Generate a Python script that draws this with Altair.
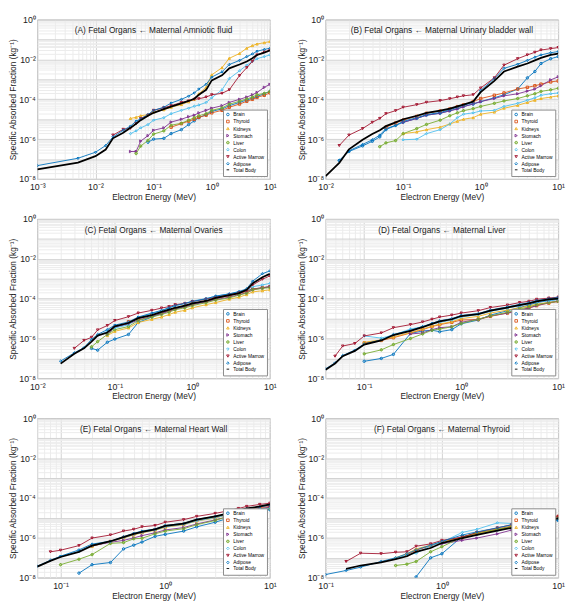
import altair as alt
import pandas as pd

# ---------------- data ----------------
ENERGY = [0.001, 0.005, 0.01, 0.015, 0.02, 0.03, 0.04, 0.05, 0.06, 0.08, 0.1, 0.15, 0.2,
          0.3, 0.4, 0.5, 0.6, 0.8, 1, 1.5, 2, 3, 4, 5, 6, 8, 10]
ORGANS = ["Brain", "Thyroid", "Kidneys", "Stomach", "Liver", "Colon",
          "Active Marrow", "Adipose", "Total Body"]
COLORS = ["#0072BD", "#D95319", "#EDB120", "#7E2F8E", "#77AC30", "#4DBEEE",
          "#A2142F", "#0072BD", "#000000"]
SHAPES = ["circle", "square", "triangle-up", "triangle-right", "cross", "diamond",
          "triangle-down", "diamond", "stroke"]

# each list is aligned to the LAST len(list) energies of ENERGY
# ---- (A) Amniotic fluid
A_brain = [7e-7, 1e-6, 1.1e-6, 1.9e-6, 3e-6, 5.4e-6, 8.3e-6, 1.2e-5, 1.7e-5, 2.5e-5, 3.3e-5, 4.8e-5, 7e-5, 9.3e-5, 1.15e-4, 1.4e-4, 1.9e-4, 2.5e-4]
A_thyroid = [4e-6, 6e-6, 8e-6, 1e-5, 1.25e-5, 1.6e-5, 2.1e-5, 2.8e-5, 4e-5, 5.8e-5, 8e-5, 1e-4, 1.25e-4, 1.6e-4, 2.1e-4]
A_kidneys = [1.1e-5, 1.25e-5, 1.5e-5, 1.7e-5, 2.3e-5, 3e-5, 4e-5, 5.5e-5, 7.5e-5, 1e-4, 1.9e-4, 4e-4, 1.7e-3, 3.9e-3, 1.15e-2, 2e-2, 3.7e-2, 5e-2, 6e-2, 7e-2, 8e-2]
A_stomach = [2.4e-7, 2.4e-7, 8e-7, 1.5e-6, 2.8e-6, 3.7e-6, 7.2e-6, 1e-5, 1.35e-5, 1.6e-5, 2.1e-5, 2.8e-5, 3.6e-5, 4.8e-5, 7e-5, 1e-4, 1.3e-4, 1.7e-4, 2.2e-4, 4e-4, 5.7e-4]
A_liver = [1.9e-7, 4.5e-7, 8.7e-7, 1.8e-6, 2.6e-6, 5e-6, 6.3e-6, 9e-6, 1.2e-5, 1.5e-5, 1.9e-5, 2.8e-5, 3.7e-5, 5.7e-5, 8e-5, 1.05e-4, 1.3e-4, 1.7e-4, 2e-4, 2.5e-4]
A_colon = [1.9e-6, 2.6e-6, 3.7e-6, 5.4e-6, 9e-6, 1.2e-5, 1.9e-5, 2.8e-5, 3.6e-5, 4.5e-5, 5.2e-5, 7e-5, 1.2e-4, 3e-4, 1.1e-3, 2.7e-3, 5.2e-3, 8e-3, 1.1e-2, 1.4e-2, 1.7e-2]
A_marrow = [1.6e-6, 3.1e-6, 3.5e-6, 6e-6, 1.1e-5, 1.6e-5, 2.8e-5, 3.8e-5, 4.8e-5, 7e-5, 8.3e-5, 1e-4, 1.07e-4, 1.3e-4, 1.7e-4, 2e-4, 3e-4, 1.55e-3, 3.9e-3, 8e-3, 1.7e-2, 2.4e-2, 2.9e-2]
A_adipose = [4.7e-8, 1.1e-7, 2.2e-7, 4.8e-7, 1.3e-6, 2.8e-6, 4.5e-6, 8e-6, 1.05e-5, 1.7e-5, 2.8e-5, 4e-5, 6.5e-5, 1e-4, 1.45e-4, 2.1e-4, 3.3e-4, 5.7e-4, 1.3e-3, 2.4e-3, 5.6e-3, 9e-3, 1.4e-2, 1.9e-2, 2.6e-2, 3.2e-2, 3.7e-2]
A_total = [3e-8, 6.7e-8, 1.4e-7, 3e-7, 1.1e-6, 2.1e-6, 3.7e-6, 6e-6, 9e-6, 1.5e-5, 2.1e-5, 3.2e-5, 4.3e-5, 6.3e-5, 8.3e-5, 1.07e-4, 1.7e-4, 3e-4, 9e-4, 1.6e-3, 3.6e-3, 5.6e-3, 8e-3, 1.15e-2, 1.7e-2, 2.2e-2, 2.9e-2]

# ---- (B) Urinary bladder wall
B_brain = [8.5e-8, 2.4e-7, 4.6e-7, 7.8e-7, 1.3e-6, 3e-6, 4.9e-6, 7e-6, 1.1e-5, 1.6e-5, 2e-5, 2.7e-5, 3.4e-5, 4.4e-5, 5.7e-5, 7.7e-5, 1.2e-4, 1.7e-4, 3.3e-4, 1.2e-3, 2.5e-3, 6.3e-3, 1.1e-2, 1.4e-2]
B_thyroid = [4e-6, 6.5e-6, 9e-6, 1.4e-5, 2e-5, 2.6e-5, 3.3e-5, 4.3e-5, 5.3e-5, 7.7e-5, 1.1e-4, 1.6e-4, 2.1e-4, 3.3e-4, 4e-4, 4.8e-4, 5.8e-4, 7.5e-4, 8.4e-4]
B_kidneys = [1.9e-6, 2.3e-6, 3e-6, 4e-6, 5.8e-6, 7.9e-6, 1e-5, 1.2e-5, 1.8e-5, 2.3e-5, 3.6e-5, 5e-5, 7e-5, 9e-5, 1.1e-4, 1.3e-4, 1.5e-4]
B_stomach = [7e-6, 1.1e-5, 1.6e-5, 2e-5, 2.6e-5, 3.3e-5, 4.2e-5, 6e-5, 7.7e-5, 1.1e-4, 1.5e-4, 1.9e-4, 2.6e-4, 3.3e-4, 4.8e-4, 9.5e-4, 1.35e-3]
B_liver = [4.2e-7, 6.5e-7, 8.5e-7, 1.9e-6, 3.4e-6, 5.5e-6, 9e-6, 1.5e-5, 2.1e-5, 2.7e-5, 3.4e-5, 4.4e-5, 6.3e-5, 8.3e-5, 1.1e-4, 1.5e-4, 1.9e-4, 2.5e-4, 3e-4, 3.6e-4]
B_colon = [9.3e-7, 1e-6, 1.9e-6, 3e-6, 5.8e-6, 1.2e-5, 1.8e-5, 2.1e-5, 2.6e-5, 2.8e-5, 4.4e-5, 6.3e-5, 9e-5, 1.2e-4, 1.6e-4, 1.9e-4, 2.1e-4]
B_marrow = [4.8e-7, 1.6e-6, 3.4e-6, 7e-6, 1.1e-5, 1.9e-5, 2.7e-5, 4e-5, 5.4e-5, 7.1e-5, 8.6e-5, 1.07e-4, 1.3e-4, 1.5e-4, 1.7e-4, 3.7e-4, 1.2e-3, 5.2e-3, 1.1e-2, 1.7e-2, 2.3e-2, 3e-2, 3.5e-2, 4e-2]
B_adipose = [8.5e-8, 2.6e-7, 5.4e-7, 9.3e-7, 1.6e-6, 3.4e-6, 4.9e-6, 7.9e-6, 1.2e-5, 1.7e-5, 2.2e-5, 3e-5, 4e-5, 5e-5, 7e-5, 2.8e-4, 1.1e-3, 3.6e-3, 5.8e-3, 9e-3, 1.3e-2, 1.7e-2, 2.2e-2, 2.5e-2]
B_total = [1.4e-8, 6.4e-8, 3.1e-7, 9.3e-7, 1.8e-6, 2.8e-6, 4.5e-6, 7e-6, 1e-5, 1.5e-5, 2.1e-5, 2.7e-5, 3.4e-5, 4.4e-5, 5.4e-5, 7.7e-5, 2.3e-4, 8.4e-4, 2.5e-3, 4.4e-3, 6.3e-3, 9e-3, 1.2e-2, 1.7e-2, 2e-2]

# ---- (C) Ovaries
C_brain = [3.2e-7, 2.6e-7, 6.5e-7, 9.4e-7, 1.6e-6, 6.4e-6, 1.2e-5, 1.8e-5, 2.6e-5, 3.1e-5, 4e-5, 5.4e-5, 7.7e-5, 1e-4, 1.5e-4, 1.9e-4, 2.5e-4, 3.1e-4, 3.5e-4, 4e-4]
C_thyroid = [7e-6, 1e-5, 1.5e-5, 2e-5, 2.6e-5, 3.3e-5, 4.2e-5, 5.5e-5, 7.5e-5, 1e-4, 1.4e-4, 1.8e-4, 2.3e-4, 3e-4, 3.6e-4, 4e-4]
C_kidneys = [1.4e-6, 2.3e-6, 3.4e-6, 6.4e-6, 9.2e-6, 1.2e-5, 1.6e-5, 2.1e-5, 2.6e-5, 3.5e-5, 5e-5, 6.4e-5, 9.5e-5, 1.2e-4, 1.6e-4, 2.2e-4, 2.5e-4, 2.8e-4]
C_stomach = [1.6e-6, 3.7e-6, 5.4e-6, 8.5e-6, 1.3e-5, 1.8e-5, 2.3e-5, 3e-5, 3.8e-5, 5e-5, 6.8e-5, 9e-5, 1.2e-4, 1.6e-4, 2e-4, 2.8e-4, 3.5e-4, 4e-4]
C_liver = [3.8e-7, 7e-7, 1.6e-6, 2.8e-6, 4e-6, 8e-6, 1.2e-5, 1.6e-5, 2.1e-5, 2.8e-5, 3.5e-5, 4.5e-5, 6.3e-5, 8.5e-5, 1.1e-4, 1.5e-4, 1.9e-4, 2.8e-4, 3.3e-4, 3.6e-4]
C_colon = [1.4e-6, 2.3e-6, 3.4e-6, 4.9e-6, 1.1e-5, 1.8e-5, 2.4e-5, 3.5e-5, 4.5e-5, 5.8e-5, 7.7e-5, 1e-4, 1.35e-4, 1.75e-4, 2.2e-4, 2.8e-4, 4e-4, 4.9e-4, 5.9e-4]
C_marrow = [3.2e-7, 8e-7, 1.15e-6, 2.7e-6, 4.5e-6, 8e-6, 1.25e-5, 1.9e-5, 2.6e-5, 3.4e-5, 4e-5, 5e-5, 5.8e-5, 7.2e-5, 9.5e-5, 1.2e-4, 1.6e-4, 2e-4, 2.5e-4, 4.9e-4, 9.5e-4, 1.4e-3]
C_adipose = [7.4e-8, 1.9e-7, 3.5e-7, 9e-7, 1.6e-6, 2.8e-6, 4.7e-6, 6.8e-6, 1.2e-5, 1.9e-5, 2.6e-5, 3.5e-5, 4.5e-5, 5.8e-5, 7.2e-5, 1e-4, 1.35e-4, 1.75e-4, 2.3e-4, 3.1e-4, 7.6e-4, 1.8e-3, 2.5e-3]
C_total = [5.5e-8, 1.7e-7, 3.2e-7, 7e-7, 1.4e-6, 2e-6, 4.1e-6, 6e-6, 1.05e-5, 1.5e-5, 2.2e-5, 2.8e-5, 3.5e-5, 4.5e-5, 5.8e-5, 7.7e-5, 1.1e-4, 1.5e-4, 1.9e-4, 2.8e-4, 5.9e-4, 1.2e-3, 1.8e-3]

# ---- (D) Liver
D_brain = [7.2e-8, 1e-7, 1.6e-7, 1.8e-6, 2.4e-6, 2.6e-6, 2.2e-6, 2.8e-6, 5.5e-6, 8.5e-6, 1.5e-5, 2.5e-5, 3.6e-5, 4.8e-5, 6.4e-5, 8e-5, 9.3e-5]
D_thyroid = [6e-7, 8e-7, 1.1e-6, 1.9e-6, 2.8e-6, 4e-6, 5e-6, 6.5e-6, 8.5e-6, 9e-6, 1.3e-5, 1.9e-5, 2.6e-5, 3.5e-5, 4.5e-5, 6e-5, 7.4e-5]
D_kidneys = [6.5e-7, 8.5e-7, 1.2e-6, 2e-6, 3e-6, 4.2e-6, 5.3e-6, 7e-6, 1e-5, 1.3e-5, 1.9e-5, 2.7e-5, 3.5e-5, 4.4e-5, 5.3e-5, 6.5e-5, 7.4e-5]
D_stomach = [1.7e-6, 1.9e-6, 2.8e-6, 3.5e-6, 3.9e-6, 6.5e-6, 9.3e-6, 1.35e-5, 1.9e-5, 2.7e-5, 3.4e-5, 4.5e-5, 6.4e-5, 7.4e-5]
D_liver = [1.7e-7, 2.7e-7, 5e-7, 1e-6, 1.7e-6, 2.6e-6, 3e-6, 3.9e-6, 5.7e-6, 9.3e-6, 1.35e-5, 2.1e-5, 3e-5, 3.9e-5, 5e-5, 6.4e-5, 7.4e-5]
D_colon = [1.35e-6, 1.05e-6, 1.5e-6, 3e-6, 3.9e-6, 5.4e-6, 6.5e-6, 8.5e-6, 1.2e-5, 1.6e-5, 2.3e-5, 3.4e-5, 4.4e-5, 5.8e-5, 6.8e-5, 8e-5, 9.3e-5]
D_marrow = [1.3e-7, 4.2e-7, 5.6e-7, 1.35e-6, 1.9e-6, 3.5e-6, 5e-6, 6.8e-6, 9.3e-6, 1.2e-5, 1.5e-5, 1.9e-5, 2.5e-5, 3.6e-5, 4.8e-5, 6.4e-5, 7.4e-5, 9.3e-5, 1.07e-4, 1.2e-4]
D_adipose = [3e-8, 6e-8, 1.4e-7, 2.6e-7, 5.4e-7, 8.5e-7, 1.6e-6, 2.6e-6, 4e-6, 5.8e-6, 7.8e-6, 1e-5, 1.45e-5, 1.8e-5, 2.7e-5, 3.9e-5, 5.2e-5, 6.3e-5, 8e-5, 1e-4, 1.15e-4]
D_total = [2.7e-8, 5.6e-8, 1.3e-7, 2.4e-7, 5e-7, 8e-7, 1.5e-6, 2.4e-6, 3.7e-6, 5.4e-6, 7.3e-6, 9.3e-6, 1.35e-5, 1.7e-5, 2.5e-5, 3.6e-5, 4.8e-5, 5.8e-5, 7.4e-5, 9.3e-5, 1e-4]

# ---- (E) Heart wall
E_brain = [1.7e-8, 4.5e-8, 5.8e-8, 2.8e-7, 4.3e-7, 6.2e-7, 1.2e-6, 1.5e-6, 2.2e-6, 3.6e-6, 6.1e-6, 9.8e-6, 1.4e-5, 1.9e-5, 2.4e-5, 2.6e-5]
E_thyroid = [4e-7, 6.6e-7, 1.05e-6, 1.5e-6, 1.9e-6, 2.6e-6, 3.7e-6, 4.9e-6, 7.5e-6, 1.1e-5, 1.5e-5, 2.1e-5, 2.7e-5, 3.3e-5, 3.8e-5]
E_kidneys = [3.8e-7, 6.5e-7, 1e-6, 1.4e-6, 1.8e-6, 2.4e-6, 3.4e-6, 4.6e-6, 7e-6, 1e-5, 1.4e-5, 1.9e-5, 2.4e-5, 2.9e-5, 3.3e-5]
E_stomach = [4e-7, 6e-7, 7.5e-7, 1e-6, 1.3e-6, 1.8e-6, 2.5e-6, 3.3e-6, 5e-6, 8e-6, 1.2e-5, 1.6e-5, 2.2e-5, 2.9e-5, 3.5e-5]
E_liver = [4.5e-8, 8.5e-8, 1.45e-7, 5.3e-7, 5.8e-7, 9e-7, 9.6e-7, 1.6e-6, 2.2e-6, 2.9e-6, 4.6e-6, 7.5e-6, 1.2e-5, 1.6e-5, 2e-5, 2.6e-5, 3e-5]
E_colon = [1.2e-7, 2.1e-7, 4.3e-7, 6.6e-7, 1.05e-6, 1.5e-6, 1.9e-6, 2.5e-6, 3.6e-6, 4.8e-6, 7.2e-6, 1.05e-5, 1.45e-5, 1.9e-5, 2.4e-5, 2.8e-5, 3e-5]
E_marrow = [2e-7, 2.4e-7, 4.1e-7, 9.8e-7, 1.4e-6, 2.2e-6, 2.7e-6, 3.6e-6, 4.2e-6, 6.1e-6, 8.2e-6, 1.2e-5, 1.7e-5, 2.3e-5, 3e-5, 3.8e-5, 4.8e-5, 5.5e-5]
E_adipose = [3.8e-8, 7.5e-8, 1.2e-7, 2.5e-7, 4.9e-7, 6.8e-7, 1.15e-6, 1.7e-6, 2.2e-6, 2.8e-6, 4.2e-6, 5.4e-6, 8.5e-6, 1.2e-5, 1.6e-5, 2.2e-5, 2.9e-5, 3.6e-5, 4.4e-5]
E_total = [3.6e-8, 7e-8, 1.1e-7, 2e-7, 4.1e-7, 6.8e-7, 1.1e-6, 1.6e-6, 2e-6, 2.7e-6, 4e-6, 5.2e-6, 8.2e-6, 1.2e-5, 1.7e-5, 2.3e-5, 3e-5, 3.8e-5, 4.8e-5]

# ---- (F) Thyroid
F_brain = [1.1e-8, 1e-7, 1.6e-7, 1.2e-6, 1.5e-6, 2.5e-6, 3.7e-6, 4.6e-6, 6e-6, 6.8e-6, 7.5e-6]
F_thyroid = [1.4e-7, 2.4e-7, 4e-7, 6.3e-7, 1.1e-6, 1.7e-6, 2.8e-6, 3.9e-6, 5e-6, 6.5e-6, 9e-6, 1.2e-5]
F_kidneys = [1e-7, 1.6e-7, 2.8e-7, 4.3e-7, 6.3e-7, 1e-6, 1.6e-6, 2.6e-6, 3.6e-6, 4.8e-6, 6.2e-6, 8.5e-6, 1.1e-5]
F_stomach = [5e-7, 7.6e-7, 9.8e-7, 1.6e-6, 2.5e-6, 3.7e-6, 5.3e-6, 7.5e-6, 9.5e-6]
F_liver = [4.1e-8, 4.8e-8, 6.5e-8, 2e-7, 3.6e-7, 1.1e-6, 1.8e-6, 2.7e-6, 3.7e-6, 4.6e-6, 6e-6, 8e-6, 9.5e-6]
F_colon = [9e-8, 1.4e-7, 1.7e-7, 4e-7, 6e-7, 1.9e-6, 2.7e-6, 5.7e-6, 5.3e-6, 6.8e-6, 7.5e-6, 8.5e-6, 9.5e-6]
F_marrow = [6.5e-8, 1.7e-7, 1.6e-7, 1.9e-7, 2e-7, 3.8e-7, 5e-7, 7.5e-7, 1.1e-6, 1.9e-6, 3.2e-6, 4.6e-6, 6e-6, 8e-6, 1.07e-5, 1.2e-5]
F_adipose = [1.45e-8, 2.3e-8, 3.4e-8, 6.5e-8, 1e-7, 1.6e-7, 2.5e-7, 4.3e-7, 6.7e-7, 1.4e-6, 2e-6, 3.2e-6, 4.6e-6, 5.6e-6, 6.8e-6, 7.5e-6, 8e-6]
F_total = [2.8e-8, 4.1e-8, 5.9e-8, 8.6e-8, 1.2e-7, 2e-7, 3.1e-7, 5.5e-7, 9.8e-7, 1.4e-6, 2.3e-6, 3.2e-6, 4.2e-6, 5.7e-6, 7.5e-6, 9.5e-6]

PANELS = [
    ("(A) Fetal Organs \u2190 Maternal Amniotic fluid", 0.001,
     [A_brain, A_thyroid, A_kidneys, A_stomach, A_liver, A_colon, A_marrow, A_adipose, A_total]),
    ("(B) Fetal Organs \u2190 Maternal Urinary bladder wall", 0.01,
     [B_brain, B_thyroid, B_kidneys, B_stomach, B_liver, B_colon, B_marrow, B_adipose, B_total]),
    ("(C) Fetal Organs \u2190 Maternal Ovaries", 0.01,
     [C_brain, C_thyroid, C_kidneys, C_stomach, C_liver, C_colon, C_marrow, C_adipose, C_total]),
    ("(D) Fetal Organs \u2190 Maternal Liver", 0.04,
     [D_brain, D_thyroid, D_kidneys, D_stomach, D_liver, D_colon, D_marrow, D_adipose, D_total]),
    ("(E) Fetal Organs \u2190 Maternal Heart Wall", 0.06,
     [E_brain, E_thyroid, E_kidneys, E_stomach, E_liver, E_colon, E_marrow, E_adipose, E_total]),
    ("(F) Fetal Organs \u2190 Maternal Thyroid", 0.1,
     [F_brain, F_thyroid, F_kidneys, F_stomach, F_liver, F_colon, F_marrow, F_adipose, F_total]),
]

# ---------------- styling helpers ----------------
W, H = 238, 163
FONT = "Liberation Sans"
SUP = str.maketrans("-0123456789", "\u207b\u2070\u00b9\u00b2\u00b3\u2074\u2075\u2076\u2077\u2078\u2079")
L = "(log(datum.value)/LN10)"
IS_POW = f"abs({L} - round({L})) < 0.001"


def label_expr(exps):
    expr = "''"
    for e in reversed(exps):
        lab = "10" + str(e).translate(SUP)
        expr = f"abs({L} - ({e})) < 0.001 ? '{lab}' : " + expr
    return expr


GRID_COLOR = {"condition": {"test": IS_POW, "value": "#d2d2d2"}, "value": "#ececec"}

LEGEND = dict(title=None, orient="bottom-right", offset=3, labelFontSize=5, labelFont=FONT,
              symbolSize=7, symbolStrokeWidth=0.9, rowPadding=0.2, padding=2.5, labelOffset=3,
              fillColor="white", strokeColor="#8a8a8a")


def make_panel(title, xmin, series):
    rows = []
    for organ, vals in zip(ORGANS, series):
        for e, v in zip(ENERGY[len(ENERGY) - len(vals):], vals):
            rows.append({"energy": e, "saf": v, "organ": organ})
    df = pd.DataFrame(rows)

    xvals = [m * 10.0 ** p for p in range(-3, 2) for m in range(1, 10)
             if xmin * 0.999 <= m * 10.0 ** p <= 10 * 1.001]
    xexps = [p for p in range(-3, 2) if xmin * 0.999 <= 10.0 ** p <= 10 * 1.001]
    yvals = [m * 10.0 ** p for p in range(-8, 0) for m in range(1, 10)] + [1.0]

    x = alt.X("energy:Q",
              scale=alt.Scale(type="log", domain=[xmin, 10], nice=False),
              axis=alt.Axis(values=xvals, labelExpr=label_expr(xexps), title="Electron Energy (MeV)",
                            labelOverlap=False, labelFlush=False, ticks=False, domain=False,
                            gridColor=GRID_COLOR, labelFontSize=9, titleFontSize=8.5,
                            labelPadding=4, titlePadding=1))
    y = alt.Y("saf:Q",
              scale=alt.Scale(type="log", domain=[1e-8, 1], nice=False),
              axis=alt.Axis(values=yvals, labelExpr=label_expr([-8, -6, -4, -2, 0]),
                            title="Specific Absorbed Fraction (kg\u207b\u00b9)",
                            labelOverlap=False, labelFlush=False, ticks=False, domain=False,
                            gridColor=GRID_COLOR, labelFontSize=9, titleFontSize=8.5,
                            labelPadding=2, titlePadding=1))

    color = alt.Color("organ:N", scale=alt.Scale(domain=ORGANS, range=COLORS),
                      legend=alt.Legend(**LEGEND))
    shape = alt.Shape("organ:N", scale=alt.Scale(domain=ORGANS, range=SHAPES),
                      legend=alt.Legend(**LEGEND))

    base = alt.Chart(df)
    organ_lines = base.transform_filter("datum.organ != 'Total Body'").mark_line(
        strokeWidth=0.9, clip=True).encode(x=x, y=y, color=color)
    organ_pts = base.transform_filter("datum.organ != 'Total Body'").mark_point(
        size=6, filled=False, strokeWidth=1, clip=True, opacity=1).encode(
        x=x, y=y, color=color, shape=shape)
    total = base.transform_filter("datum.organ == 'Total Body'").mark_line(
        strokeWidth=1.8, clip=True).encode(x=x, y=y, color=color)
    label = alt.Chart(pd.DataFrame({"t": [title]})).mark_text(
        font=FONT, fontSize=8.5, color="#1a1a1a", baseline="middle", align="center").encode(
        text="t:N", x=alt.value(W / 2), y=alt.value(11))

    return alt.layer(organ_lines, organ_pts, total, label).properties(width=W, height=H)


panels = [make_panel(t, xm, s) for t, xm, s in PANELS]

chart = alt.concat(*panels, columns=2, spacing={"row": 13, "column": 20}).resolve_scale(
    color="independent", shape="independent", x="independent", y="independent"
).properties(padding={"left": 0, "top": 0, "right": 2, "bottom": 0}).configure(
    font=FONT
).configure_view(stroke="#9a9a9a", strokeWidth=0.8).configure_axis(
    labelFont=FONT, titleFont=FONT, labelColor="#222", titleColor="#222", titleFontWeight="normal"
)

chart.save("out.html", embed_options={"renderer": "svg", "actions": False})
